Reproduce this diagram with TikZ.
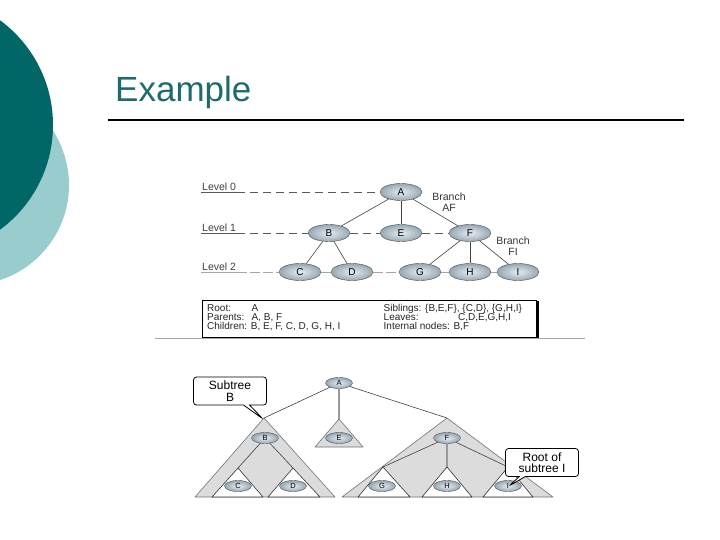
\documentclass[tikz,border=0pt]{standalone}
\usepackage{fontspec}
\setmainfont{Liberation Sans}
\usetikzlibrary{
  shapes.geometric,
  shapes.callouts,
  shadows
}
\definecolor{slideteal}{RGB}{0,102,102}
\definecolor{slidemint}{RGB}{153,204,204}
\definecolor{titleteal}{RGB}{31,107,107}
\definecolor{nodecore}{RGB}{230,236,240}
\definecolor{noderim}{RGB}{150,168,180}
\definecolor{treegray}{RGB}{220,220,220}
\tikzset{
  % For the nodes of the level tree.
  level node/.style={
    ellipse,
    draw=black!70,
    inner color=nodecore,
    outer color=noderim,
    minimum width=42,
    minimum height=17,
    inner sep=0pt,
    font=\fontsize{10}{10}\selectfont},
%
  % For the nodes of the subtree picture.
  sub node/.style={
    ellipse,
    draw=black!70,
    inner color=nodecore,
    outer color=noderim,
    minimum width=27,
    minimum height=11,
    inner sep=0pt,
    font=\fontsize{7.5}{7.5}\selectfont},
%
  % For level names.
  level label/.style={
    anchor=south west,
    inner sep=1pt,
    font=\fontsize{10.5}{10.5}\selectfont,
    text=black!75},
%
  % For tree edges.
  edge line/.style={
    draw=black!75,
    line width=0.6pt},
  thick edge/.style={
    draw=black!40,
    line width=2pt},
%
  % For the dashed level lines.
  level dash/.style={
    draw=black!65,
    line width=0.7pt,
    dash pattern=on 8pt off 5pt},
  light dash/.style={
    draw=black!35,
    line width=0.6pt,
    dash pattern=on 10pt off 3pt},
%
  % For subtree triangles.
  subtree/.style={
    draw=black!55,
    fill=treegray,
    line width=0.6pt,
    line join=round},
  leaf subtree/.style={
    draw=black!80,
    fill=white,
    line width=0.6pt,
    line join=round},
%
  % For explanations.
  description/.style={
    align=center,
    font=\fontsize{10.5}{10.5}\selectfont,
    text=black!80},
  fact/.style={
    anchor=base west,
    inner sep=0pt,
    font=\fontsize{10}{10}\selectfont,
    text=black!85},
  callout box/.style={
    rectangle callout,
    draw,
    fill=white,
    rounded corners=3pt,
    line width=0.8pt,
    callout pointer width=6pt,
    minimum width=73,
    minimum height=28,
    inner sep=1pt,
    align=center,
    font=\fontsize{12}{11.5}\selectfont},
}
\begin{document}
\begin{tikzpicture}[x=1pt,y=-1pt]
  \useasboundingbox (0,0) rectangle (720,540);

  % Slide decoration.
  \begin{scope}
    \clip (0,0) rectangle (720,540);
    \fill[slidemint] (-31,185) circle[radius=100];
    \fill[slideteal] (-77,125) circle[radius=130];
  \end{scope}
  \node[anchor=base west, inner sep=0pt, text=titleteal,
        font=\fontsize{35}{35}\selectfont] (title) at (115,102) {Example};
  \draw[line width=1.6pt] (108,120) -- (684,120);

  % Level tree.
  \node[level node] (tA) at (401,192) {A};
  \node[level node] (tB) at (329,233) {B};
  \node[level node] (tE) at (401,233) {E};
  \node[level node] (tF) at (470,233) {F};
  \node[level node] (tC) at (300,272) {C};
  \node[level node] (tD) at (352,272) {D};
  \node[level node] (tG) at (420,272) {G};
  \node[level node] (tH) at (470,272) {H};
  \node[level node] (tI) at (518,272) {I};

  \draw[edge line] (tA) -- (tB);
  \draw[edge line] (tA) -- (tE);
  \draw[edge line] (tA) -- (tF);
  \draw[edge line] (tB) -- (tC);
  \draw[edge line] (tB) -- (tD);
  \draw[edge line] (tF) -- (tG);
  \draw[edge line] (tF) -- (tH);
  \draw[edge line] (tF) -- (tI);

  \node[level label] (lv0) at (201,192) {Level 0};
  \node[level label] (lv1) at (201,233) {Level 1};
  \node[level label] (lv2) at (201,272) {Level 2};

  \draw[draw=black!65, line width=0.7pt] (lv0.south west) -- (lv0.south east);
  \draw[level dash] (lv0.south east) -- (tA.west);
  \draw[draw=black!65, line width=0.7pt] (lv1.south west) -- (lv1.south east);
  \draw[level dash] (lv1.south east) -- (tB.west);
  \draw[level dash] (tB.east) -- (tE.west);
  \draw[level dash] (tE.east) -- (tF.west);
  \draw[draw=black!35, line width=0.6pt] (lv2.south west) -- (lv2.south east);
  \draw[light dash] (lv2.south east) -- (tC.west);
  \draw[light dash] (tC.east) -- (tD.west);
  \draw[light dash] (tD.east) -- (tG.west);
  \draw[light dash] (tG.east) -- (tH.west);
  \draw[light dash] (tH.east) -- (tI.west);

  \node[description] (branchAF) at (449,202) {Branch\\AF};
  \node[description] (branchFI) at (513,246) {Branch\\FI};

  % Terms.
  \node[draw, fill=white, line width=0.7pt, minimum width=334, minimum height=37,
        drop shadow={shadow xshift=3pt, shadow yshift=-1pt, fill=black, opacity=1}]
        (facts) at (369,318.5) {};
  \draw[draw=black!35, line width=0.7pt] (155,338) -- (585,338);

  \node[fact] (root) at (207,311.5) {Root:};
  \node[fact] (rootval) at (251.5,311.5) {A};
  \node[fact] (parents) at (207,320.3) {Parents:};
  \node[fact] (parentsval) at (251.5,320.3) {A, B, F};
  \node[fact] (children) at (207,329) {Children: B, E, F, C, D, G, H, I};
  \node[fact] (siblings) at (383.5,311.5) {Siblings: \{B,E,F\}, \{C,D\}, \{G,H,I\}};
  \node[fact] (leaves) at (383.5,320.3) {Leaves:};
  \node[fact] (leavesval) at (458,320.3) {C,D,E,G,H,I};
  \node[fact] (internal) at (383.5,329) {Internal nodes: B,F};

  % Subtrees.
  \coordinate (topB) at (264,418);
  \coordinate (topE) at (339,419);
  \coordinate (topF) at (447,418);
  \coordinate (topC) at (238,468);
  \coordinate (topD) at (293,468);
  \coordinate (topG) at (383,467);
  \coordinate (topH) at (447,467);
  \coordinate (topI) at (508,467);

  \draw[subtree] (topB) -- (195,497) -- (335,497) -- cycle;
  \draw[subtree] (topF) -- (342,497) -- (553,497) -- cycle;
  \draw[subtree] (topE) -- (315,447) -- (363,447) -- cycle;
  \draw[leaf subtree] (topC) -- (212,497) -- (263,497) -- cycle;
  \draw[leaf subtree] (topD) -- (268,497) -- (320,497) -- cycle;
  \draw[leaf subtree] (topG) -- (358,497) -- (410,497) -- cycle;
  \draw[leaf subtree] (topH) -- (422,497) -- (472,497) -- cycle;
  \draw[leaf subtree] (topI) -- (483,497) -- (533,497) -- cycle;

  \node[sub node] (bA) at (339,383) {A};
  \node[sub node] (bB) at (265,438) {B};
  \node[sub node] (bE) at (339,438) {E};
  \node[sub node] (bF) at (447,438) {F};
  \node[sub node] (bC) at (238,486) {C};
  \node[sub node] (bD) at (293,486) {D};
  \node[sub node] (bG) at (382,486) {G};
  \node[sub node] (bH) at (447,486) {H};
  \node[sub node] (bI) at (508,486) {I};

  \draw[edge line] (bA) -- (topB);
  \draw[thick edge] (bA) -- (topE);
  \draw[edge line] (bA) -- (topF);
  \draw[edge line] (bB) -- (topC);
  \draw[edge line] (bB) -- (topD);
  \draw[edge line] (bF) -- (topG);
  \draw[thick edge] (bF) -- (topH);
  \draw[edge line] (bF) -- (topI);

  % Callouts come last so they lie on top of the triangles.
  \coordinate (tipB) at (263,419);
  \coordinate (tipI) at (509,486);
  \node[callout box, callout absolute pointer={(tipB)}] (calloutB) at (230,391)
    {Subtree\\B};
  \node[callout box, callout absolute pointer={(tipI)}] (calloutI) at (542,462.5)
    {Root of\\subtree I};
\end{tikzpicture}
\end{document}
